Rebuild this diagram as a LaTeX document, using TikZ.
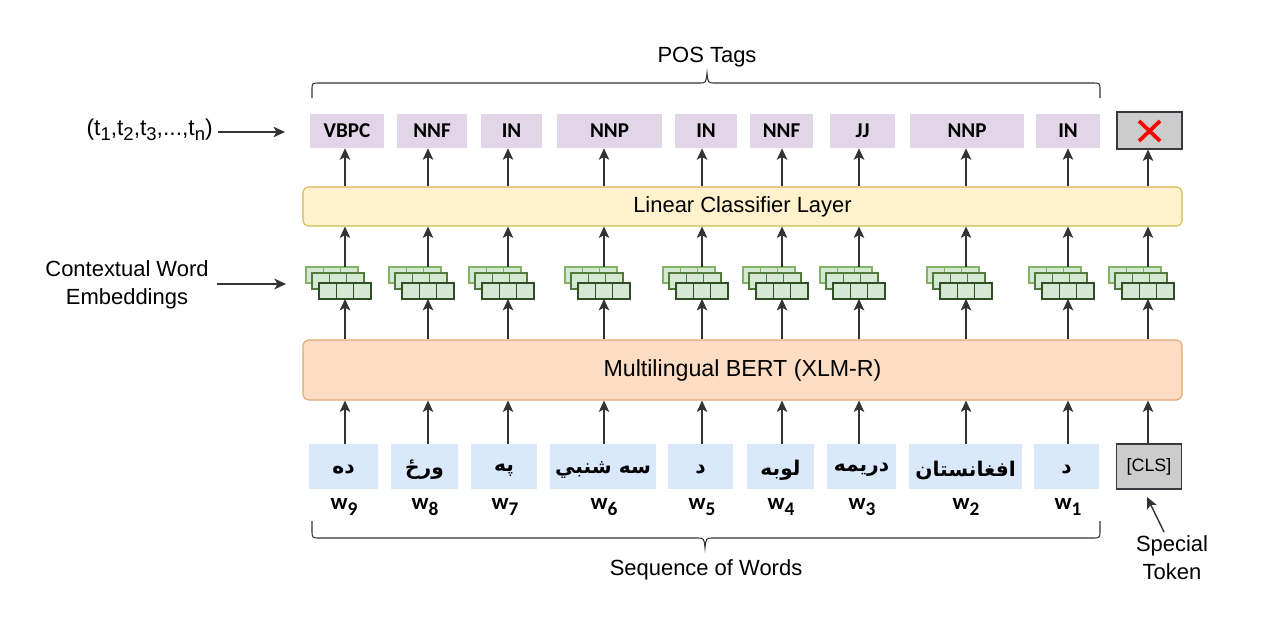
\documentclass[tikz,border=0pt]{standalone}
\usepackage{fontspec}
\setmainfont{Liberation Sans}
\newfontfamily\calib{Carlito}
\newfontfamily\arab[Script=Arabic]{DejaVu Sans Bold}
\TeXXeTstate=1
\usetikzlibrary{arrows.meta}
\definecolor{tagc}{HTML}{E1D5E7}
\definecolor{wordc}{HTML}{DAE8FC}
\definecolor{linfill}{HTML}{FFF2CC}
\definecolor{linstroke}{HTML}{D6B656}
\definecolor{bertfill}{HTML}{FCDCC2}
\definecolor{bertstroke}{HTML}{E0A870}
\definecolor{embfill}{HTML}{D5E8D4}
\definecolor{embA}{HTML}{82B366}
\definecolor{embB}{HTML}{4F7A3A}
\definecolor{embC}{HTML}{2D4F23}
\definecolor{grayfill}{HTML}{CCCCCC}
\definecolor{graystroke}{HTML}{36393D}
\definecolor{arrc}{HTML}{333333}
\def\u{0.02cm}
\newcommand\sbx[1]{\raisebox{-0.45ex}{\fontsize{10.5}{11}\selectfont #1}}
\newcommand\wsb[1]{\raisebox{-0.5ex}{\fontsize{11}{11}\selectfont #1}}
\tikzset{
  arr/.style={draw=arrc, line width=0.8pt, -{Stealth[length=6.5pt,width=6pt,inset=1.6pt]}},
  brace/.style={draw=arrc, line width=0.6pt},
  tagbox/.style={fill=tagc, inner sep=0pt, minimum height={34*\u}, font=\calib\bfseries\fontsize{12}{14}\selectfont},
  wordbox/.style={fill=wordc, inner sep=0pt, minimum height={45*\u}},
  wordtext/.style={inner sep=0pt, font=\arab\fontsize{11.5}{14}\selectfont},
  graybox/.style={fill=grayfill, draw=graystroke, line width=0.6pt, inner sep=0pt, minimum width={65*\u}},
  layerbox/.style={rounded corners=3pt, line width=0.6pt, inner sep=0pt, minimum width={879*\u}},
  lbl/.style={font=\fontsize{12.5}{15}\selectfont, align=center, inner sep=0pt},
  wlbl/.style={font=\calib\bfseries\fontsize{13}{15}\selectfont, inner sep=0pt},
  cell/.style={fill=embfill, line width=0.8pt},
}
\newcommand\embrow[4]{% x, dx, dy, color
  \draw[cell, draw=#4] ({#1-26+#2},{283+#3}) rectangle ({#1+26+#2},{299+#3});
  \draw[draw=#4, line width=0.8pt] ({#1-26+#2+17.33},{283+#3}) -- ({#1-26+#2+17.33},{299+#3})
        ({#1-26+#2+34.67},{283+#3}) -- ({#1-26+#2+34.67},{299+#3});
}
\begin{document}
\begin{tikzpicture}[x=0.02cm,y=-0.02cm]
\useasboundingbox (0,0) rectangle (1280,619);
\fill[white] (0,0) rectangle (1280,619);

% column coordinates
\foreach \i/\x in {1/345,2/428,3/508,4/604,5/702,6/782,7/859,8/966,9/1068,10/1148}
  \coordinate (c\i) at (\x,0);

% layers
\node[layerbox, fill=linfill, draw=linstroke, minimum height={39*\u}, font=\fontsize{12.5}{15}\selectfont] (lin) at (742.5,206.5) {Linear Classifier Layer};
\node[layerbox, fill=bertfill, draw=bertstroke, minimum height={60*\u}, font=\fontsize{13.2}{16}\selectfont] (bert) at (742.5,370) {Multilingual BERT (XLM-R)};

% POS tags
\foreach \i/\x/\w/\t in {1/347/74/VBPC,2/432/70/NNF,3/511.5/61/IN,4/609.5/105/NNP,5/706/62/IN,6/781.5/63/NNF,7/862.5/65/JJ,8/967/114/NNP,9/1068/64/IN}
  \node[tagbox, minimum width={\w*\u}] (t\i) at (\x,131) {\t};
\node[graybox, minimum height={37*\u}] (t10) at (1149.5,130.5) {};
\draw[red, line width=2.1pt] (1139,121) -- (1160,141) (1160,121) -- (1139,141);

% words
\foreach \i/\x/\w/\t in {1/343.5/69/ده,2/424.5/67/ورځ,3/504/66/په,4/603/106/سه شنبي,5/700.5/65/د,6/780.5/67/لوبه,7/861.5/69/دريمه,8/965.5/113/افغانستان,9/1066.5/65/د}{
  \node[wordbox, minimum width={\w*\u}] (w\i) at (\x,466.5) {};
  \node[wordtext, yshift=-2pt] (wt\i) at (w\i.center) {\beginR\t\endR};
}
\node[graybox, minimum height={45*\u}, font=\fontsize{10.2}{12}\selectfont] (w10) at (1149,466.5) {[CLS]};

% word indices
\foreach \i/\x/\n in {1/344/9,2/425/8,3/505/7,4/604/6,5/702/5,6/781/4,7/862/3,8/966/2,9/1068/1}
  \node[wlbl] (n\i) at (\x,507) {w\wsb{\n}};

% embeddings
\foreach \x [count=\i] in {345,428,508,604,702,782,859,966,1068,1148}{
  \embrow{\x}{-13}{-16}{embA}
  \embrow{\x}{-7}{-10}{embB}
  \embrow{\x}{0}{0}{embC}
  \coordinate (eb\i) at (\x,299);
  \coordinate (et\i) at (\x,267);
}

% arrows
\foreach \i in {1,...,10}{
  \draw[arr] (c\i |- w\i.north) -- (c\i |- bert.south);
  \draw[arr] (c\i |- bert.north) -- (eb\i);
  \draw[arr] (et\i) -- (c\i |- lin.south);
  \draw[arr] (c\i |- lin.north) -- (c\i |- t\i.south);
}

% braces
\draw[brace] (312,98) -- (312,90) .. controls (312,83) .. (320,83) -- (699,83) .. controls (706,83) .. (707,73) .. controls (708,83) .. (715,83) -- (1092,83) .. controls (1100,83) .. (1100,90) -- (1100,98);
\node[lbl] (pos) at (707,57) {POS Tags};
\draw[brace] (312,521) -- (312,530) .. controls (312,538) .. (320,538) -- (697,538) .. controls (704,538) .. (705,548) .. controls (706,538) .. (713,538) -- (1092,538) .. controls (1100,538) .. (1100,530) -- (1100,521);
\node[lbl] (seq) at (706,570) {Sequence of Words};

% left labels
\node[lbl, anchor=east, font=\fontsize{13}{15}\selectfont] (tseq) at (213,130) {(t\sbx{1},t\sbx{2},t\sbx{3},...,t\sbx{n})};
\coordinate (ts) at (218,132);
\coordinate (ta) at (285,132);
\draw[arr] (ts) -- (ta);
\node[lbl] (cwe) at (127,285) {Contextual Word\\[1pt]Embeddings};
\coordinate (cs) at (217,284);
\coordinate (ca) at (286,284);
\draw[arr] (cs) -- (ca);

% special token
\node[lbl] (spec) at (1172,558) {Special\\[1pt]Token};
\coordinate (sp) at (1164,532);
\coordinate (se) at (1147,497);
\draw[arr] (sp) -- (se);
\end{tikzpicture}
\end{document}
